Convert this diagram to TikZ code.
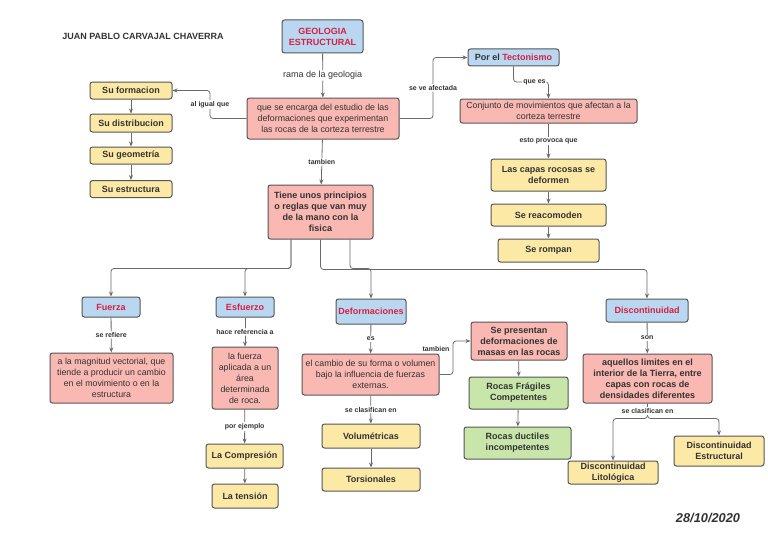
\documentclass[tikz,border=0pt]{standalone}
\usepackage{fontspec}
\setmainfont{Liberation Sans}
\usetikzlibrary{arrows.meta}
\definecolor{Cgeoblue}{HTML}{B9D7F1}
\definecolor{Cgeopink}{HTML}{F9B8B2}
\definecolor{Cgeoyellow}{HTML}{FDE9A6}
\definecolor{Cgeogreen}{HTML}{C8E6AA}
\definecolor{Cgeored}{HTML}{D6213E}
\definecolor{Cgeoline}{HTML}{6A6A6A}
\definecolor{Cgeoedge}{HTML}{555555}
\definecolor{Cgeotext}{HTML}{333333}

\begin{document}
\begin{tikzpicture}[x=1pt,y=-1pt,
		geobox/.style={draw=Cgeoedge,line width=1pt,rounded corners=2.5pt,align=center,inner sep=0pt,text=Cgeotext,font=\fontsize{9}{11}\selectfont\bfseries},
		plain/.style={font=\fontsize{8.8}{11}\selectfont},
		blu/.style={geobox,fill=Cgeoblue,text=Cgeored},
		pnk/.style={geobox,fill=Cgeopink},
		yel/.style={geobox,fill=Cgeoyellow},
		grn/.style={geobox,fill=Cgeogreen},
		lbl/.style={fill=white,inner sep=1pt,text=Cgeotext,font=\fontsize{7}{8}\selectfont\bfseries},
		link/.style={draw=Cgeoline,line width=0.8pt,rounded corners=3pt,-{Stealth[length=5pt,width=4pt]}}]
	\useasboundingbox (0,0) rectangle (768,543);
	\node[text=Cgeotext,font=\fontsize{9}{11}\selectfont\bfseries] (title) at (143,36) {JUAN PABLO CARVAJAL CHAVERRA};
	\node[blu,minimum width=81,minimum height=33] (geo) at (322.5,36.5) {GEOLOGIA\\ESTRUCTURAL};
	\node[pnk,plain,minimum width=152,minimum height=41] (main) at (323,118.5) {que se encarga del estudio de las\\deformaciones que experimentan\\las rocas de la corteza terrestre};
	\node[yel,minimum width=82,minimum height=17] (form) at (131,90.5) {Su formacion};
	\node[yel,minimum width=82,minimum height=18] (distr) at (131,123) {Su distribucion};
	\node[yel,minimum width=82,minimum height=17] (geom) at (131,155.5) {Su geometría};
	\node[yel,minimum width=82,minimum height=17] (estr) at (131,189) {Su estructura};
	\node[blu,text=Cgeotext,minimum width=91,minimum height=17] (tecto) at (513.5,57.5) {Por el \textcolor{Cgeored}{Tectonismo}};
	\node[pnk,plain,minimum width=177,minimum height=24] (conj) at (548.5,111) {Conjunto de movimientos que afectan a la\\corteza terrestre};
	\node[yel,minimum width=115,minimum height=32] (capas) at (548.5,175) {Las capas rocosas se\\deformen};
	\node[yel,minimum width=115,minimum height=22] (reaco) at (548.5,215) {Se reacomoden};
	\node[yel,minimum width=101,minimum height=23] (rompan) at (548.5,250.5) {Se rompan};
	\node[pnk,minimum width=105,minimum height=54] (tiene) at (320.5,212) {Tiene unos principios\\o reglas que van muy\\de la mano con la\\fisica};
	\node[blu,minimum width=58,minimum height=20] (fuerza) at (111,307) {Fuerza};
	\node[blu,minimum width=58,minimum height=20] (esf) at (245,307) {Esfuerzo};
	\node[blu,minimum width=70,minimum height=25] (deform) at (371,311.5) {Deformaciones};
	\node[blu,minimum width=82,minimum height=23] (discon) at (647,310.5) {Discontinuidad};
	\node[pnk,plain,minimum width=123,minimum height=50] (magn) at (111.5,378) {a la magnitud vectorial, que\\tiende a producir un cambio\\en el movimiento o en la\\estructura};
	\node[pnk,plain,minimum width=66,minimum height=62] (apli) at (245,378) {la fuerza\\aplicada a un\\área\\determinada\\de roca.};
	\node[yel,minimum width=77,minimum height=24] (compr) at (244.5,456) {La Compresión};
	\node[yel,minimum width=66,minimum height=24] (tens) at (245,496) {La tensión};
	\node[pnk,plain,minimum width=137,minimum height=41] (cambio) at (370.5,374.5) {el cambio de su forma o volumen\\bajo la influencia de fuerzas\\externas.};
	\node[yel,minimum width=98,minimum height=24] (volu) at (371,436) {Volumétricas};
	\node[yel,minimum width=98,minimum height=23] (tors) at (371,479.5) {Torsionales};
	\node[pnk,minimum width=96,minimum height=38] (present) at (519,341) {Se presentan\\deformaciones de\\masas en las rocas};
	\node[grn,minimum width=99,minimum height=32] (fragil) at (518.5,393) {Rocas Frágiles\\Competentes};
	\node[grn,minimum width=107,minimum height=32] (ductil) at (517.5,443) {Rocas ductiles\\incompetentes};
	\node[pnk,minimum width=129,minimum height=49] (aquel) at (647.5,378.5) {aquellos limites en el\\interior de la Tierra, entre\\capas con rocas de\\densidades diferentes};
	\node[yel,minimum width=90,minimum height=23] (lito) at (613,472.5) {Discontinuidad\\Litológica};
	\node[yel,minimum width=90,minimum height=30] (estruc) at (719,451) {Discontinuidad\\Estructural};
	\node[text=Cgeotext,font=\fontsize{12.8}{14}\selectfont\bfseries\itshape] (date) at (708,518) {28/10/2020};

	\draw[link] (geo) -- (main) node[midway,fill=white,inner sep=1pt,text=Cgeotext,font=\fontsize{9}{11}\selectfont] (l1) {rama de la geologia};
	\draw[link] (main.west) -- (210,118.5) |- (form) node[lbl,pos=0.25] (l2) {al igual que};
	\draw[link] (form) -- (distr);
	\draw[link] (distr) -- (geom);
	\draw[link] (geom) -- (estr);
	\draw[link] (main.east) -- (433,118.5) |- (tecto) node[lbl,pos=0.25] (l3) {se ve afectada};
	\draw[link] (tecto.south) -- (513.5,82) -| (conj.north) node[lbl,pos=0.3] (l4) {que es};
	\draw[link] (conj) -- (capas) node[lbl,midway] (l5) {esto provoca que};
	\draw[link] (capas) -- (reaco);
	\draw[link] (reaco) -- (rompan);
	\draw[link] (main) -- (tiene) node[lbl,midway] (l6) {tambien};
	\draw[link] ([xshift=-29.5pt]tiene.south) -- ++(0,29) -| (fuerza.north);
	\draw[link] ([xshift=-29.5pt]tiene.south) -- ++(0,29) -| (esf.north);
	\draw[link] ([xshift=29.5pt]tiene.south) -- ++(0,29) -| (deform.north);
	\draw[link] (tiene.south) -- ++(0,30) -| (discon.north);
	\draw[link] (fuerza) -- (magn) node[lbl,midway] (l7) {se refiere};
	\draw[link] (esf) -- (apli) node[lbl,midway] (l8) {hace referencia a};
	\draw[link] (apli) -- (compr) node[lbl,midway] (l9) {por ejemplo};
	\draw[link] (compr) -- (tens);
	\draw[link] (deform) -- (cambio) node[lbl,midway] (l10) {es};
	\draw[link] (cambio) -- (volu) node[lbl,midway] (l11) {se clasifican en};
	\draw[link] (volu) -- (tors);
	\draw[link] (cambio.east) -- (453,374.5) |- (present.west);
	\node[lbl] (l12) at (436,349) {tambien};
	\draw[link] (present) -- (fragil);
	\draw[link] (fragil) -- (ductil);
	\draw[link] (discon) -- (aquel) node[lbl,midway] (l13) {son};
	\draw[link] (aquel.south) -- ++(0,15) -| (lito.north);
	\draw[link] (aquel.south) -- ++(0,15) -| (estruc.north);
	\node[lbl] (l14) at (647.5,411) {se clasifican en};
\end{tikzpicture}
\end{document}
